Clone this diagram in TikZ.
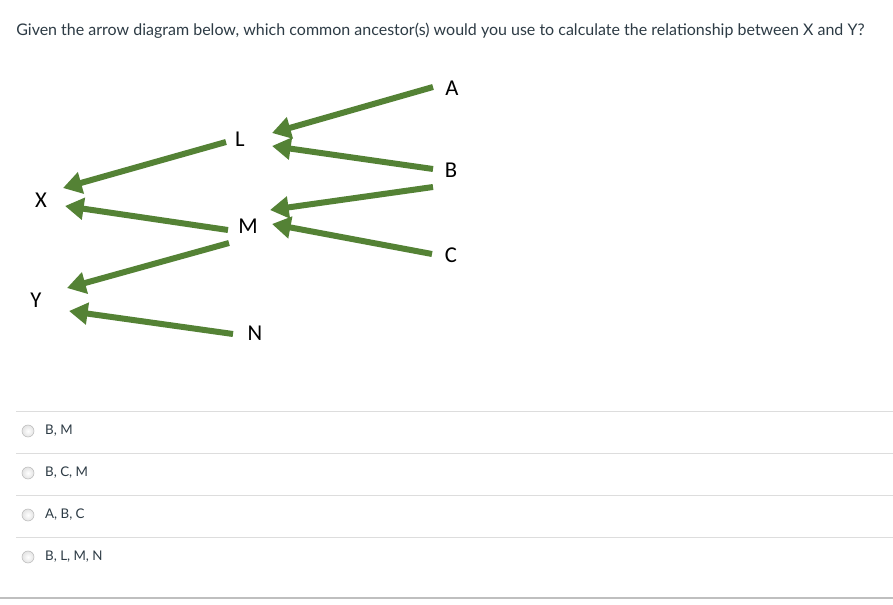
\documentclass[tikz,border=0pt]{standalone}
\usepackage{fontspec}
\setmainfont{Lato}
\newfontfamily\lblfont{Carlito}
\usetikzlibrary{arrows.meta, positioning}
\definecolor{arrowgreen}{HTML}{548235}
\definecolor{txtgray}{HTML}{2D3B45}
\definecolor{rulegray}{HTML}{DDDDDD}

\begin{document}
\begin{tikzpicture}[x=0.75pt, y=-0.75pt,
	lbl/.style={font=\lblfont\fontsize{17}{20}\selectfont, inner sep=0pt},
	arr/.style={->, >={Triangle[length=14pt, width=16pt]}, line width=4.5pt, color=arrowgreen},
	opt/.style={anchor=west, font=\fontsize{10}{12}\selectfont, text=txtgray, inner sep=0pt},
	radio/.style={circle, draw=gray!55, inner color=white, outer color=gray!22, minimum size=9pt, inner sep=0pt}]

	\useasboundingbox[fill=white] (0,0) rectangle (893,604);

	\node[anchor=west, inner sep=0pt, text=txtgray, font=\fontsize{12}{14}\selectfont] (q) at (16,31)
	{Given the arrow diagram below, which common ancestor(s) would you use to calculate the relationship between X and Y?};

	\node[lbl] (A) at (452,88) {A};
	\node[lbl] (L) at (240,139) {L};
	\node[lbl] (B) at (451,170) {B};
	\node[lbl] (X) at (41,200) {X};
	\node[lbl] (M) at (248,226) {M};
	\node[lbl] (C) at (451,255) {C};
	\node[lbl] (Y) at (36,300) {Y};
	\node[lbl] (N) at (255,333) {N};

	\path[arr]
	([shift={(-19,-1)}]A.center) edge ([shift={(32,-6)}]L.center)
	([shift={(-18,-1)}]B.center) edge ([shift={(32,7)}]L.center)
	([shift={(-18,17)}]B.center) edge ([shift={(22,-16)}]M.center)
	([shift={(-19,-1)}]C.center) edge ([shift={(24,-2)}]M.center)
	([shift={(-14,3)}]L.center) edge ([shift={(22,-12)}]X.center)
	([shift={(-20,4)}]M.center) edge ([shift={(24,6)}]X.center)
	([shift={(-19,17)}]M.center) edge ([shift={(31,-12)}]Y.center)
	([shift={(-22,1)}]N.center) edge ([shift={(33,11)}]Y.center);

	% answer rows
	\draw[rulegray] (16,411) -- (893,411);
	\draw[rulegray] (16,453) -- (893,453);
	\draw[rulegray] (16,495) -- (893,495);
	\draw[rulegray] (16,537) -- (893,537);
	\draw[gray!50, line width=1pt] (0,598) -- (893,598);

	\node[radio] (r1) at (28,431) {};
	\node[opt, right=8pt of r1] (o1) {B, M};
	\node[radio] (r2) at (28,473) {};
	\node[opt, right=8pt of r2] (o2) {B, C, M};
	\node[radio] (r3) at (28,515) {};
	\node[opt, right=8pt of r3] (o3) {A, B, C};
	\node[radio] (r4) at (28,557) {};
	\node[opt, right=8pt of r4] (o4) {B, L, M, N};

\end{tikzpicture}
\end{document}
